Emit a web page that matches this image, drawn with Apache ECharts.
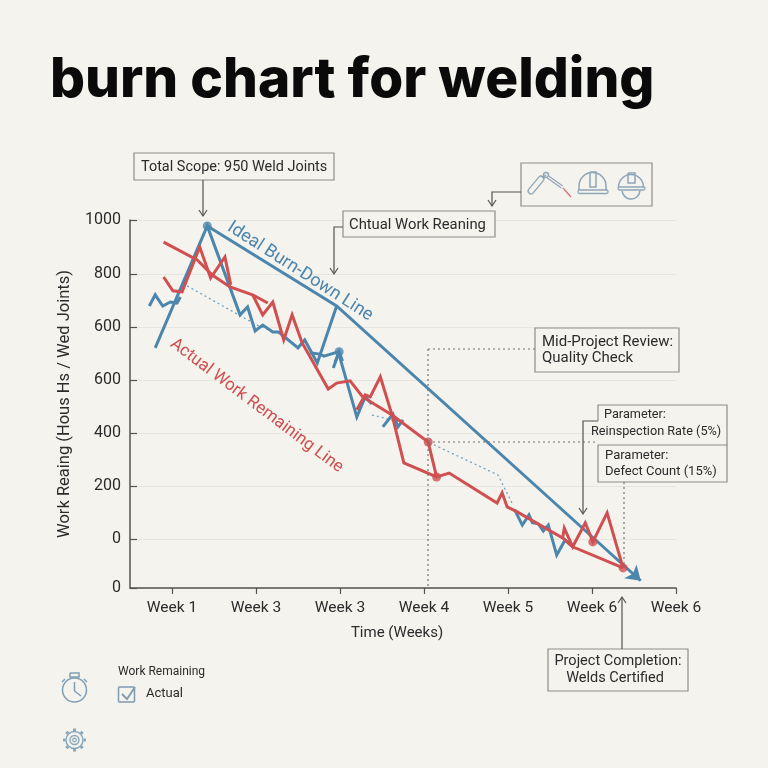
<!DOCTYPE html>
<html>
<head>
<meta charset="utf-8">
<title>burn chart for welding</title>
<style>html,body{margin:0;padding:0;background:#f4f2ed}#chart{width:768px;height:768px}</style>
<script src="https://cdn.jsdelivr.net/npm/echarts@6/dist/echarts.min.js"></script>
</head>
<body>
<div id="chart"></div>
<script>
// Tick positions and the text printed at each of them
const xTicks = [1, 2, 3, 4, 5, 6, 7];
const xTickLabels = ['Week 1', 'Week 3', 'Week 3', 'Week 4', 'Week 5', 'Week 6', 'Week 6'];
const yTicks = [-149, 0, 161, 322, 483, 643, 804, 968];
const yTickLabels = ['0', '0', '200', '400', '600', '600', '800', '1000'];

// Ideal burn-down
const idealLine = [[1.42, 950], [2.96, 707], [6.58, -127]];

// Actual work remaining, blue traces
const blueEarly = [[0.73, 707], [0.80, 741], [0.89, 707], [0.98, 719], [1.06, 716], [1.10, 734]];
const blueMain = [[0.80, 580], [1.42, 950], [1.81, 680], [1.90, 704], [1.99, 631], [2.08, 649], [2.20, 628], [2.27, 628], [2.50, 580], [2.58, 604], [2.73, 534], [2.96, 707]];
const blueMid = [[2.64, 565], [2.76, 561], [2.81, 555], [2.98, 568], [3.20, 370], [3.30, 431], [3.38, 410]];
const blueStub = [[2.92, 519], [2.99, 568]];
const blueStubHead = [[2.94, 536], [2.99, 568], [3.03, 540]];
const blueShort = [[3.51, 340], [3.63, 379], [3.69, 340], [3.75, 361]];
const blueLate = [[5.08, 88], [5.17, 42], [5.25, 73], [5.29, 49], [5.36, 46], [5.42, 24], [5.48, 42], [5.58, -49], [5.68, -3], [5.77, -24]];
const blueDotA = [[1.18, 768], [2.01, 649], [2.32, 619]];
const blueDotB = [[3.38, 376], [3.48, 370], [3.75, 352], [4.05, 294], [4.88, 194], [5.06, 103]];

// Actual work remaining, red traces
const redUpper = [[0.90, 901], [1.30, 847], [1.48, 801], [1.69, 765], [1.96, 741], [2.14, 716]];
const redEarly = [[0.90, 795], [1.01, 753], [1.12, 750], [1.33, 886], [1.46, 792], [1.63, 856], [1.70, 771]];
const redMiddle = [[1.96, 741], [2.08, 680], [2.20, 719], [2.33, 604], [2.43, 680], [2.55, 595], [2.86, 455], [2.96, 473], [3.12, 480], [3.27, 431], [3.62, 376], [4.05, 294], [4.15, 188]];
const redLower = [[3.20, 392], [3.30, 437], [3.36, 431], [3.48, 492], [3.62, 376], [3.76, 231], [4.15, 188], [4.30, 200], [4.87, 109], [4.93, 140], [4.99, 97], [5.11, 82], [5.65, 3], [5.77, -24], [6.37, -88]];
const redSpikes = [[5.65, 3], [5.67, 33], [5.77, -24], [5.92, 49], [6.01, -9], [6.18, 79], [6.37, -88]];

// Highlighted milestones
const blueDots = [[1.42, 950], [2.99, 568]];
const redDots = [[4.05, 294], [4.15, 188], [6.01, -9], [6.37, -88]];

const BLUE = '#4c86ad';
const RED = '#d04f50';
const INK = '#2b2b2b';
const EDGE = '#8f8d87';
const PAPER = '#f5f3ee';
const UI = '"Roboto", "Noto Sans", sans-serif';

function trace(data, color, width, extra) {
  return Object.assign({
    type: 'line', data: data, showSymbol: false, symbol: 'none', silent: true, animation: false,
    lineStyle: { color: color, width: width === undefined ? 3 : width, join: 'miter' }
  }, extra || {});
}

// Annotation primitives
function poly(points, stroke, width, dash, cap) {
  return { type: 'polyline', z: 23, shape: { points: points },
    style: { stroke: stroke || EDGE, lineWidth: width || 1.2, fill: null, lineDash: dash || null, lineCap: cap || 'butt' } };
}
function openHead(x, y, dir) {
  const s = 4;
  const pts = dir === 'up' ? [[x - s, y + 6], [x, y], [x + s, y + 6]] : [[x - s, y - 6], [x, y], [x + s, y - 6]];
  return poly(pts, '#55534f', 1.2);
}
function box(x, y, w, h, fill) {
  return { type: 'rect', z: 21, shape: { x: x, y: y, width: w, height: h },
    style: { fill: fill || PAPER, stroke: EDGE, lineWidth: 1.2 } };
}
function label(text, x, y, size, opts) {
  return { type: 'text', z: 24, x: x, y: y, rotation: (opts && opts.rotation) || 0,
    style: { text: text, fill: (opts && opts.fill) || INK, font: ((opts && opts.weight) || '400') + ' ' + size + 'px ' + ((opts && opts.family) || UI),
      textAlign: (opts && opts.align) || 'left', textVerticalAlign: 'middle' } };
}
function iconStroke(points, color, w) { return poly(points, color || '#8ea5b5', w || 1.5); }
function circle(cx, cy, r, color, w, fill) {
  return { type: 'circle', z: 23, shape: { cx: cx, cy: cy, r: r },
    style: { stroke: color, lineWidth: w || 1.5, fill: fill || null } };
}
function arc(cx, cy, r, a0, a1, color, w) {
  return { type: 'arc', z: 23, shape: { cx: cx, cy: cy, r: r, startAngle: a0, endAngle: a1 },
    style: { stroke: color, lineWidth: w || 1.5, fill: null } };
}

const ICON = '#8fa6b6';
const annotations = [
  label('burn chart for welding', 50, 80, 55, { weight: '800', family: '"Inter", "Liberation Sans", sans-serif', fill: '#0a0a0a' }),

  // Total scope callout
  poly([[203, 180], [203, 216]], '#55534f'), openHead(203, 216, 'down'),
  box(134, 153, 200, 27), label('Total Scope: 950 Weld Joints', 141, 167, 14.45),

  // Actual work callout
  poly([[343, 227], [334, 227], [334, 273]], '#55534f'), openHead(334, 274, 'down'),
  box(343, 211, 152, 26), label('Chtual Work Reaning', 349, 225, 14.8),

  // Icon panel: torch, then two helmets
  poly([[521, 192], [492, 192], [492, 206]], '#55534f'), openHead(492, 206, 'down'),
  box(521, 163, 131, 43),
  poly([[531, 191], [541, 179]], ICON, 7, null, 'round'),
  poly([[531, 191], [541, 179]], PAPER, 4.4, null, 'round'),
  circle(546, 175, 2.5, ICON, 1.4),
  poly([[548, 177], [562, 187]], ICON, 3.6),
  poly([[548, 177], [562, 187]], PAPER, 1.2),
  iconStroke([[542, 178], [546, 175]], ICON, 1.4),
  iconStroke([[563, 188], [571, 197]], '#d9707a', 1.3),
  arc(592.5, 186, 13.5, Math.PI, 0, ICON), iconStroke([[579, 186], [579, 190]], ICON), iconStroke([[606, 186], [606, 190]], ICON),
  { type: 'rect', z: 23, shape: { x: 578, y: 190, width: 30, height: 3.5, r: 1.5 }, style: { stroke: ICON, lineWidth: 1.3, fill: null } },
  iconStroke([[590, 172], [590, 187], [596, 187], [596, 172], [590, 172]], ICON),
  arc(631, 187, 12.5, Math.PI, 0, ICON),
  { type: 'rect', z: 23, shape: { x: 618, y: 187, width: 27, height: 3, r: 1.5 }, style: { stroke: ICON, lineWidth: 1.3, fill: null } },
  iconStroke([[628, 173], [628, 183], [635, 183], [635, 173], [628, 173]], ICON),
  arc(631, 190, 9, 0.1, Math.PI - 0.1, ICON),

  // Mid-project review callout
  poly([[428, 349], [535, 349]], '#77756f', 1.2, [2, 3]),
  poly([[428, 349], [428, 588]], '#77756f', 1.2, [2, 3]),
  box(535, 328, 144, 44),
  label('Mid-Project Review:', 542, 342, 15), label('Quality Check', 542, 358, 15),

  // Parameter callouts
  poly([[428, 442], [598, 442]], '#77756f', 1.2, [2, 3]),
  poly([[598, 421], [583, 421], [583, 513]], '#55534f'), openHead(583, 514, 'down'),
  poly([[598, 421], [598, 405], [727, 405], [727, 445]], EDGE, 1.2),
  label('Parameter:', 604, 415, 12.7), label('Reinspection Rate (5%)', 591, 432, 12.7),
  poly([[624, 482], [624, 568]], '#77756f', 1.2, [2, 3]),
  box(598, 445, 129, 37),
  label('Parameter:', 605, 456, 13), label('Defect Count (15%)', 605, 472, 13),

  // Completion callout
  poly([[622, 649], [622, 597]], '#55534f'), openHead(622, 597, 'up'),
  box(548, 649, 140, 42),
  label('Project Completion:', 618, 661, 14.5, { align: 'center' }),
  label('Welds Certified', 615, 678, 14.5, { align: 'center' }),

  // Text set along the lines
  label('Ideal Burn-Down Line', 229, 226, 18, { fill: BLUE, rotation: -0.57 }),
  label('Actual Work Remaining Line', 172, 342, 17, { fill: RED, rotation: -0.645 }),

  // Key
  label('Work Remaining', 118, 672, 12),
  { type: 'rect', z: 23, shape: { x: 118.5, y: 687, width: 16, height: 15, r: 1 }, style: { stroke: '#7f9bb0', fill: null, lineWidth: 1.5 } },
  iconStroke([[122, 694], [127, 699], [135, 687]], '#7f9bb0', 1.8),
  label('Actual', 146, 694, 13),

  // Stopwatch
  circle(74.5, 690, 12, '#7f9fb6', 1.5),
  iconStroke([[74.5, 682], [74.5, 691], [81, 696]], '#7f9fb6', 1.5),
  iconStroke([[70, 673], [79, 673], [79, 677], [70, 677], [70, 673]], '#7f9fb6', 1.5),
  iconStroke([[84, 679], [87, 682]], '#7f9fb6', 1.5),
  iconStroke([[65, 679], [62, 682]], '#7f9fb6', 1.5),

  // Gear
  circle(74.5, 740, 8.5, '#8aa6ba', 1.4),
  circle(74.5, 740, 4.5, '#8aa6ba', 1.4),
  circle(74.5, 740, 1.8, '#8aa6ba', 1.2)
];
[0, 45, 90, 135, 180, 225, 270, 315].forEach(function (deg) {
  const a = deg * Math.PI / 180;
  annotations.push(iconStroke([[74.5 + 9 * Math.cos(a), 740 + 9 * Math.sin(a)], [74.5 + 11.5 * Math.cos(a), 740 + 11.5 * Math.sin(a)]], '#8aa6ba', 3));
});

const chart = echarts.init(document.getElementById('chart'), null, { renderer: 'canvas' });
chart.setOption({
  animation: false,
  backgroundColor: PAPER,
  grid: { left: 130, top: 220, width: 546, height: 368 },
  xAxis: {
    type: 'value', min: 0.5, max: 7, name: 'Time (Weeks)', nameLocation: 'middle', nameGap: 38,
    nameTextStyle: { color: INK, fontSize: 15, fontFamily: UI, padding: [0, 12, 0, 0] },
    splitLine: { show: false },
    axisLine: { onZero: false, lineStyle: { color: '#55534f', width: 1.5 } },
    axisTick: { show: true, inside: false, length: 6, customValues: xTicks, lineStyle: { color: '#55534f', width: 1.2 } },
    axisLabel: { customValues: xTicks, color: INK, fontSize: 15.5, fontFamily: UI, margin: 12,
      formatter: function (v) { return xTickLabels[xTicks.indexOf(v)]; } }
  },
  yAxis: {
    type: 'value', min: -149, max: 968, name: 'Work Reaing (Hous Hs / Wed Joints)', nameLocation: 'middle', nameGap: 57,
    nameTextStyle: { color: INK, fontSize: 16.5, fontFamily: UI },
    splitLine: { show: true, lineStyle: { color: '#e7e5df', width: 1.2 } },
    axisLine: { show: true, onZero: false, lineStyle: { color: '#55534f', width: 1.5 } },
    axisTick: { show: true, inside: true, length: 7, customValues: yTicks, lineStyle: { color: '#55534f', width: 1.2 } },
    axisLabel: { customValues: yTicks, color: INK, fontSize: 16, fontFamily: UI, margin: 9,
      formatter: function (v) { return yTickLabels[yTicks.indexOf(v)]; } }
  },
  series: [
    trace(blueDotA, '#6fa3c4', 1.3, { lineStyle: { color: '#6fa3c4', width: 1.3, type: [2, 3] } }),
    trace(blueDotB, '#6fa3c4', 1.3, { lineStyle: { color: '#6fa3c4', width: 1.3, type: [2, 3] } }),
    trace(blueEarly, BLUE),
    trace(blueMain, BLUE),
    trace(blueMid, BLUE),
    trace(blueStub, BLUE),
    trace(blueStubHead, BLUE),
    trace(blueShort, BLUE),
    trace(blueLate, BLUE),
    trace(idealLine, BLUE, 3, {
      showSymbol: true, symbol: 'none',
      data: idealLine.map(function (p, i) {
        return i === idealLine.length - 1
          ? { value: p, symbol: 'arrow', symbolSize: 14, symbolRotate: -132, itemStyle: { color: BLUE } }
          : { value: p };
      })
    }),
    trace(redUpper, RED),
    trace(redEarly, RED),
    trace(redMiddle, RED),
    trace(redLower, RED),
    trace(redSpikes, RED),
    { type: 'scatter', data: blueDots, symbolSize: 9, itemStyle: { color: BLUE }, silent: true, z: 5 },
    { type: 'scatter', data: redDots, symbolSize: 9, itemStyle: { color: RED }, silent: true, z: 5 }
  ],
  graphic: annotations
});
</script>
</body>
</html>
